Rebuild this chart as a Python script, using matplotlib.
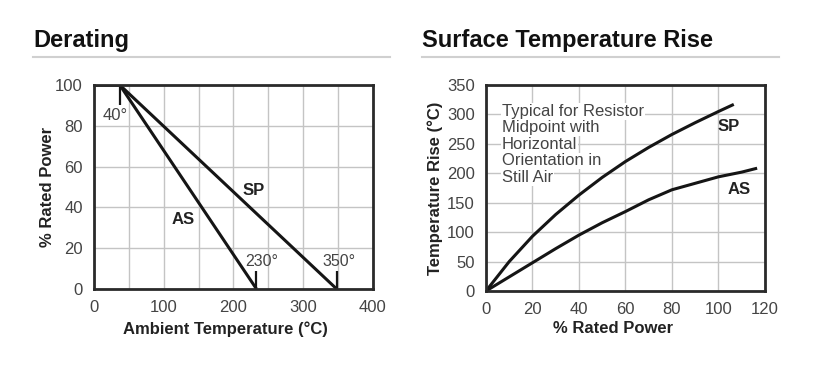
import matplotlib
matplotlib.use("Agg")
import matplotlib.pyplot as plt
from matplotlib.lines import Line2D

plt.rcParams['font.family'] = ['Liberation Sans', 'DejaVu Sans']

# Derating curves (ambient temp degC, % rated power)
derate_as_x = [0, 37, 233]
derate_as_y = [100, 100, 0]
derate_sp_x = [0, 37, 348]
derate_sp_y = [100, 100, 0]
# small marker ticks with their labels
marker_x = [37, 233, 348]
marker_labels = ["40°", "230°", "350°"]

# Surface temperature rise (% rated power, degC rise)
rise_sp_x = [0, 10, 20, 30, 40, 50, 60, 70, 80, 90, 100, 106]
rise_sp_y = [0, 50, 93, 130, 163, 193, 220, 244, 266, 286, 305, 316]
rise_as_x = [0, 10, 20, 30, 40, 50, 60, 70, 80, 90, 100, 110, 116]
rise_as_y = [0, 24, 48, 72, 95, 116, 135, 155, 172, 183, 194, 202, 208]
note_lines = ["Typical for Resistor", "Midpoint with", "Horizontal",
              "Orientation in", "Still Air"]

gray_txt = '#444444'
lab_col = '#222222'
dark = '#151515'

fig = plt.figure(figsize=(8.34, 3.80), dpi=100)
ax1 = fig.add_axes([0.1127, 0.2395, 0.3345, 0.5368])
ax2 = fig.add_axes([0.5827, 0.2342, 0.3345, 0.5421])


def style_axes(ax):
    ax.grid(True, color='#c4c4c4', linewidth=1.0)
    ax.set_axisbelow(True)
    for s in ax.spines.values():
        s.set_linewidth(2.0)
        s.set_color('#2a2a2a')
        s.set_zorder(5)
    ax.tick_params(length=0, labelsize=12, labelcolor=gray_txt, pad=8)


# ---- Derating ----
style_axes(ax1)
ax1.set_xlim(0, 400)
ax1.set_ylim(0, 100)
ax1.set_xticks(range(0, 401, 50))
ax1.set_xticklabels([str(v) if v % 100 == 0 else "" for v in range(0, 401, 50)])
ax1.set_yticks(range(0, 101, 20))
ax1.plot(derate_as_x, derate_as_y, color=dark, lw=2.2, solid_capstyle='butt', zorder=4)
ax1.plot(derate_sp_x, derate_sp_y, color=dark, lw=2.2, solid_capstyle='butt', zorder=4)
ax1.vlines(marker_x[0], 90, 100, color=dark, lw=1.6, zorder=4)
ax1.vlines(marker_x[1:], 0, 9, color=dark, lw=1.6, zorder=4)
ax1.text(31, 85, marker_labels[0], ha='center', va='center', fontsize=12, color=gray_txt)
ax1.text(241, 13.5, marker_labels[1], ha='center', va='center', fontsize=11.5, color=gray_txt)
ax1.text(352, 13.5, marker_labels[2], ha='center', va='center', fontsize=11.5, color=gray_txt)
ax1.text(229, 48.5, "SP", ha='center', va='center', fontsize=12, fontweight='bold', color=lab_col)
ax1.text(128, 34, "AS", ha='center', va='center', fontsize=12, fontweight='bold', color=lab_col)
ax1.set_xlabel("Ambient Temperature (°C)", fontsize=12, fontweight='bold', color=lab_col)
ax1.set_ylabel("% Rated Power", fontsize=12, fontweight='bold', color=lab_col, labelpad=0)
ax1.xaxis.set_label_coords(0.47, -0.157)

# ---- Surface Temperature Rise ----
style_axes(ax2)
ax2.set_xlim(0, 120)
ax2.set_ylim(0, 350)
ax2.set_xticks(range(0, 121, 20))
ax2.set_yticks(range(0, 351, 50))
ax2.plot(rise_sp_x, rise_sp_y, color=dark, lw=2.2, zorder=4)
ax2.plot(rise_as_x, rise_as_y, color=dark, lw=2.2, zorder=4)
ax2.text(104.6, 279, "SP", ha='center', va='center', fontsize=12, fontweight='bold', color=lab_col)
ax2.text(109, 173, "AS", ha='center', va='center', fontsize=12, fontweight='bold', color=lab_col)
for i, line in enumerate(note_lines):
    ax2.text(6.8, 305 - i * 28, line, ha='left', va='center', fontsize=12, color=gray_txt,
             bbox=dict(facecolor='white', edgecolor='none', pad=0.5), zorder=3)
ax2.set_xlabel("% Rated Power", fontsize=12, fontweight='bold', color=lab_col)
ax2.set_ylabel("Temperature Rise (°C)", fontsize=12, fontweight='bold', color=lab_col, labelpad=3)
ax2.xaxis.set_label_coords(0.455, -0.146)

# ---- titles and rules ----
fig.text(33 / 834, 1 - 47 / 380, "Derating", fontsize=17,
         fontweight='bold', color='#111111', ha='left', va='baseline')
fig.text(422 / 834, 1 - 47 / 380, "Surface Temperature Rise", fontsize=17,
         fontweight='bold', color='#111111', ha='left', va='baseline')
fig.add_artist(Line2D([33 / 834, 390 / 834], [1 - 57 / 380] * 2, color='#d0d0d0', lw=1.5))
fig.add_artist(Line2D([422 / 834, 779 / 834], [1 - 57 / 380] * 2, color='#d0d0d0', lw=1.5))

fig.savefig("out.png", dpi=100, facecolor='white')
